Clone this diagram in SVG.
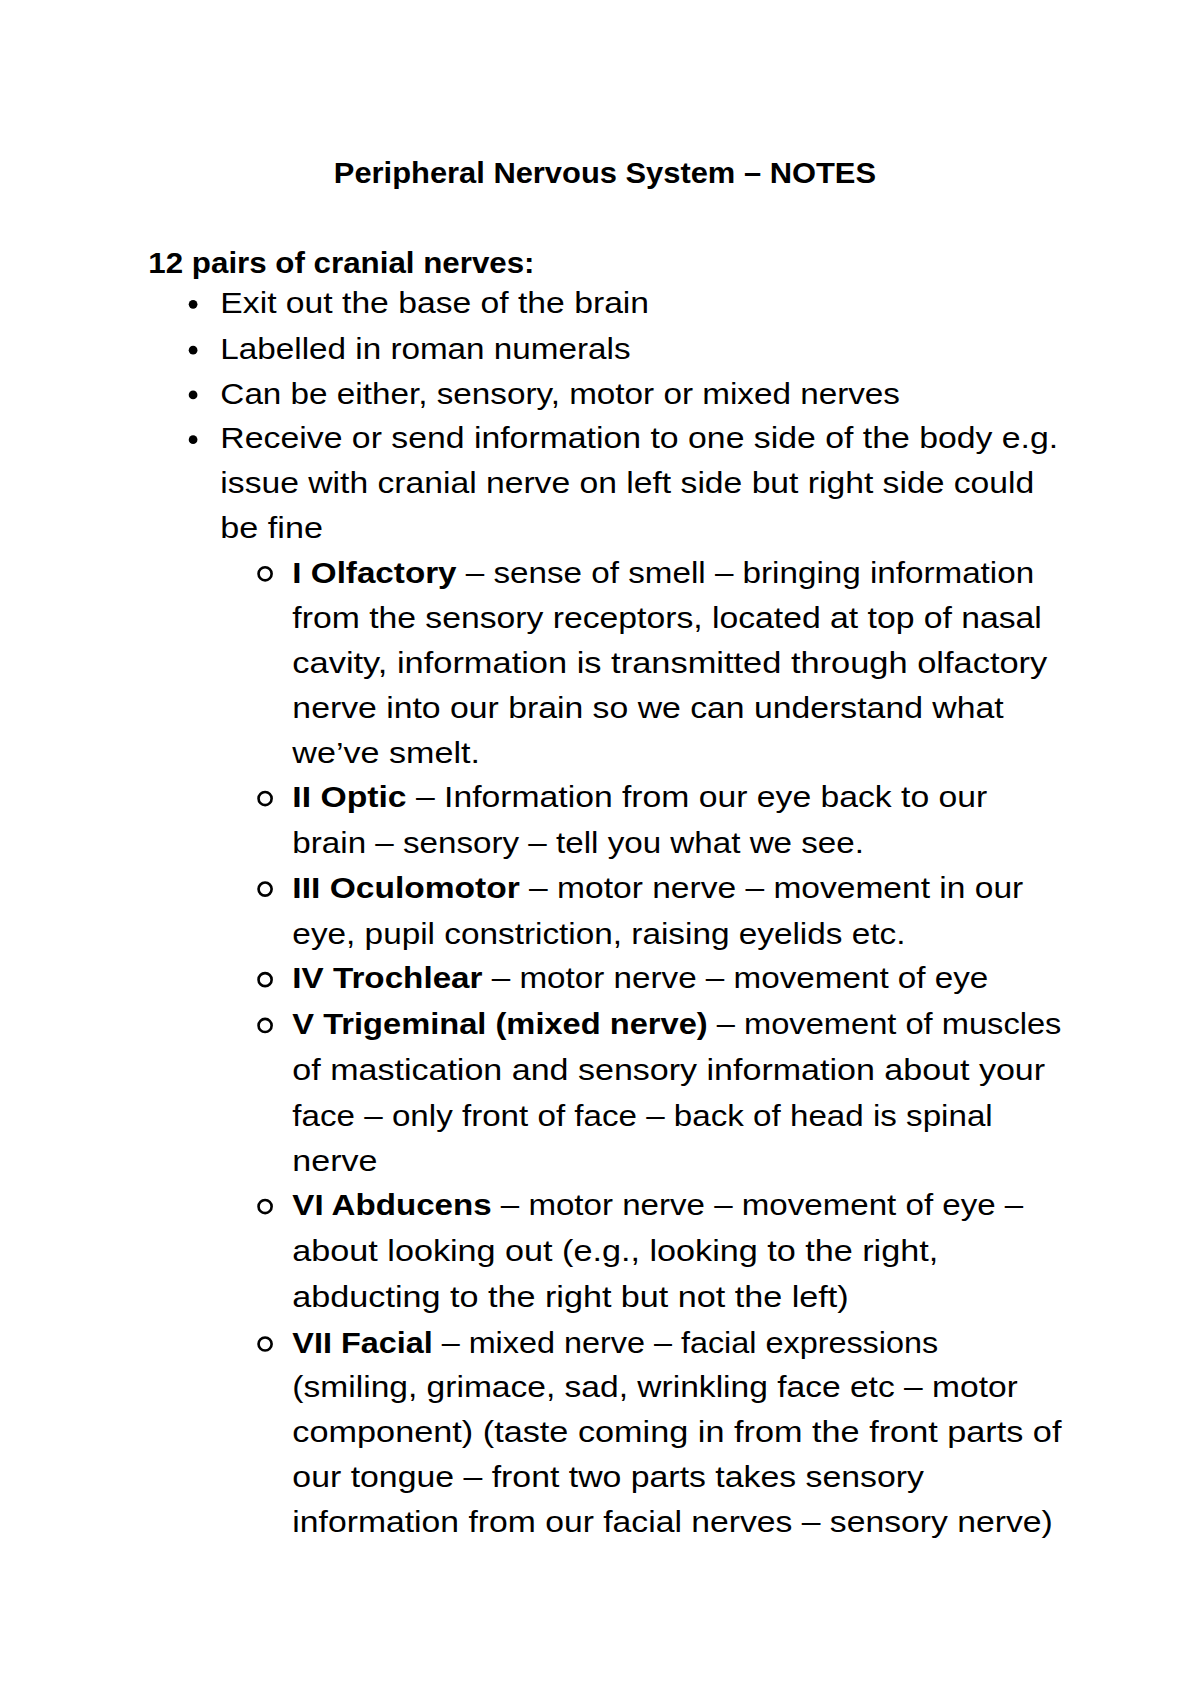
<svg xmlns="http://www.w3.org/2000/svg" width="1200" height="1698" viewBox="0 0 1200 1698">
<style>
text{font-family:"Liberation Sans",Arial,sans-serif;font-size:27px;fill:#000}
.b{font-weight:bold}
.d{fill:#000}
.o{fill:none;stroke:#000;stroke-width:2.4}
</style>
<rect width="1200" height="1698" fill="#fff"/>
<g transform="scale(1.0909)">
<g id="title"><text x="306" y="168" textLength="497" lengthAdjust="spacingAndGlyphs" class="b">Peripheral Nervous System – NOTES</text></g>
<g id="heading"><text x="136" y="250" textLength="354" lengthAdjust="spacingAndGlyphs" class="b">12 pairs of cranial nerves:</text></g>
<g id="bullets">
<circle class="d" cx="177" cy="279" r="4"/><circle class="d" cx="177" cy="321" r="4"/><circle class="d" cx="177" cy="362" r="4"/><circle class="d" cx="177" cy="403" r="4"/>
<text x="202" y="287" textLength="393" lengthAdjust="spacingAndGlyphs">Exit out the base of the brain</text>
<text x="202" y="329" textLength="376" lengthAdjust="spacingAndGlyphs">Labelled in roman numerals</text>
<text x="202" y="370" textLength="623" lengthAdjust="spacingAndGlyphs">Can be either, sensory, motor or mixed nerves</text>
<text x="202" y="411" textLength="768" lengthAdjust="spacingAndGlyphs">Receive or send information to one side of the body e.g.</text>
<text x="202" y="452" textLength="746" lengthAdjust="spacingAndGlyphs">issue with cranial nerve on left side but right side could</text>
<text x="202" y="493" textLength="94" lengthAdjust="spacingAndGlyphs">be fine</text>
</g>
<g id="nerves">
<circle class="o" cx="243" cy="526" r="6"/><circle class="o" cx="243" cy="732" r="6"/><circle class="o" cx="243" cy="815" r="6"/><circle class="o" cx="243" cy="898" r="6"/><circle class="o" cx="243" cy="940" r="6"/><circle class="o" cx="243" cy="1106" r="6"/><circle class="o" cx="243" cy="1232" r="6"/>
<text x="268" y="534" textLength="680" lengthAdjust="spacingAndGlyphs"><tspan class="b">I Olfactory</tspan> – sense of smell – bringing information</text>
<text x="268" y="576" textLength="687" lengthAdjust="spacingAndGlyphs">from the sensory receptors, located at top of nasal</text>
<text x="268" y="617" textLength="692" lengthAdjust="spacingAndGlyphs">cavity, information is transmitted through olfactory</text>
<text x="268" y="658" textLength="652" lengthAdjust="spacingAndGlyphs">nerve into our brain so we can understand what</text>
<text x="268" y="699" textLength="172" lengthAdjust="spacingAndGlyphs">we’ve smelt.</text>
<text x="268" y="740" textLength="637" lengthAdjust="spacingAndGlyphs"><tspan class="b">II Optic</tspan> – Information from our eye back to our</text>
<text x="268" y="782" textLength="524" lengthAdjust="spacingAndGlyphs">brain – sensory – tell you what we see.</text>
<text x="268" y="823" textLength="670" lengthAdjust="spacingAndGlyphs"><tspan class="b">III Oculomotor</tspan> – motor nerve – movement in our</text>
<text x="268" y="865" textLength="562" lengthAdjust="spacingAndGlyphs">eye, pupil constriction, raising eyelids etc.</text>
<text x="268" y="906" textLength="638" lengthAdjust="spacingAndGlyphs"><tspan class="b">IV Trochlear</tspan> – motor nerve – movement of eye</text>
<text x="268" y="948" textLength="705" lengthAdjust="spacingAndGlyphs"><tspan class="b">V Trigeminal (mixed nerve)</tspan> – movement of muscles</text>
<text x="268" y="990" textLength="690" lengthAdjust="spacingAndGlyphs">of mastication and sensory information about your</text>
<text x="268" y="1032" textLength="642" lengthAdjust="spacingAndGlyphs">face – only front of face – back of head is spinal</text>
<text x="268" y="1073" textLength="78" lengthAdjust="spacingAndGlyphs">nerve</text>
<text x="268" y="1114" textLength="670" lengthAdjust="spacingAndGlyphs"><tspan class="b">VI Abducens</tspan> – motor nerve – movement of eye –</text>
<text x="268" y="1156" textLength="592" lengthAdjust="spacingAndGlyphs">about looking out (e.g., looking to the right,</text>
<text x="268" y="1198" textLength="510" lengthAdjust="spacingAndGlyphs">abducting to the right but not the left)</text>
<text x="268" y="1240" textLength="592" lengthAdjust="spacingAndGlyphs"><tspan class="b">VII Facial</tspan> – mixed nerve – facial expressions</text>
<text x="268" y="1281" textLength="665" lengthAdjust="spacingAndGlyphs">(smiling, grimace, sad, wrinkling face etc – motor</text>
<text x="268" y="1322" textLength="705" lengthAdjust="spacingAndGlyphs">component) (taste coming in from the front parts of</text>
<text x="268" y="1363" textLength="579" lengthAdjust="spacingAndGlyphs">our tongue – front two parts takes sensory</text>
<text x="268" y="1404" textLength="697" lengthAdjust="spacingAndGlyphs">information from our facial nerves – sensory nerve)</text>
</g>
</g>
</svg>
